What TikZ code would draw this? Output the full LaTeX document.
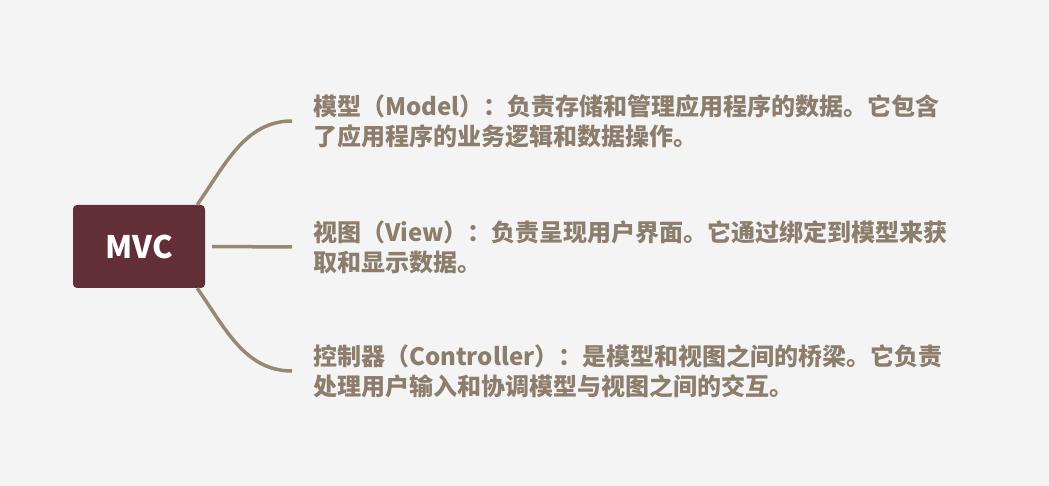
\documentclass[tikz,border=0pt]{standalone}
\usepackage{fontspec}
\newfontfamily\cjk{Noto Sans CJK SC}
\usetikzlibrary{positioning}
\definecolor{bgcol}{HTML}{F4F4F4}
\definecolor{rootcol}{HTML}{622E38}
\definecolor{branchcol}{HTML}{978874}
\definecolor{textcol}{HTML}{8C7D6C}
\begin{document}
\begin{tikzpicture}[x=1pt, y=-1pt,
  root/.style={fill=rootcol, rounded corners=4pt, minimum width=132pt, minimum height=83pt,
    text=white, font=\cjk\bfseries\fontsize{31}{31}\selectfont},
  leaf/.style={anchor=west, inner xsep=21pt, inner ysep=0pt, align=left, text=textcol,
    font=\cjk\bfseries\fontsize{24}{30}\selectfont},
  branch/.style={draw=branchcol, line width=3.5pt}]
\useasboundingbox[fill=bgcol] (0,0) rectangle (1049,486);

\def\lx{292}

\node[leaf] (model) at (\lx,121) {模型（Model）：负责存储和管理应用程序的数据。它包含\\了应用程序的业务逻辑和数据操作。};
\node[leaf] (view) at (\lx,247) {视图（View）：负责呈现用户界面。它通过绑定到模型来获\\取和显示数据。};
\node[leaf] (ctrl) at (\lx,371) {控制器（Controller）：是模型和视图之间的桥梁。它负责\\处理用户输入和协调模型与视图之间的交互。};

\node[root] (mvc) at (139,246.5) {MVC};

\draw[branch] ([xshift=-8pt]mvc.north east) .. controls +(28,-40) and +(-47,0) .. (model.west);
\draw[branch] ([xshift=7pt]mvc.east) -- (view.west);
\draw[branch] ([xshift=-8pt]mvc.south east) .. controls +(28,40) and +(-47,0) .. (ctrl.west);
\end{tikzpicture}
\end{document}
